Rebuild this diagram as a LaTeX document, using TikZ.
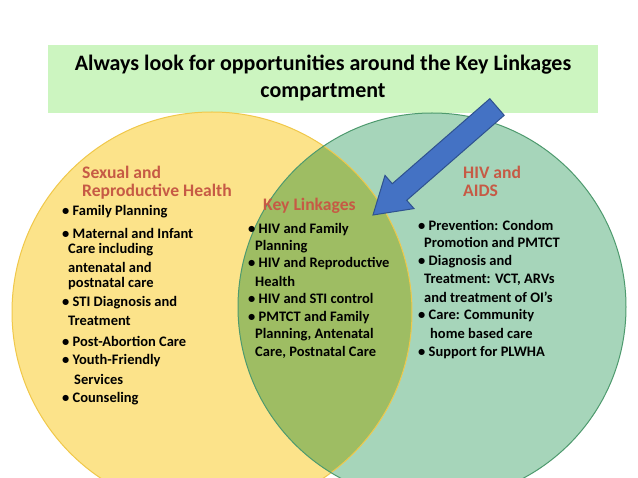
\documentclass[tikz,border=0pt]{standalone}
\usepackage{fontspec}
\setmainfont{Carlito}
\definecolor{ylw}{HTML}{FCE38A}
\definecolor{ylwb}{HTML}{F0C84A}
\definecolor{grn}{HTML}{A6D5BA}
\definecolor{grnb}{HTML}{4E9A6E}
\definecolor{olv}{HTML}{9EBD63}
\definecolor{hd}{HTML}{C65A45}
\definecolor{ttl}{HTML}{CCF5C0}
\definecolor{arr}{HTML}{4472C4}
\definecolor{arrb}{HTML}{2F528F}
\begin{document}
\begin{tikzpicture}[x=1pt,y=-1pt,
  txt/.style={anchor=west,inner sep=0pt,font=\bfseries\fontsize{14.5}{17}\selectfont,text=black},
  head/.style={anchor=west,inner sep=0pt,font=\bfseries\fontsize{17.6}{20}\selectfont,text=hd}]
\useasboundingbox (0,0) rectangle (638,478);
\fill[white] (0,0) rectangle (638,478);
\fill[ttl] (48,45) rectangle (598,113);
\node[inner sep=0pt,align=center,font=\bfseries\fontsize{22}{27}\selectfont] (title) at (323,78) {Always look for opportunities around the Key Linkages\\compartment};
\fill[ylw] (212,312) circle (200);
\fill[grn] (432,307) circle (194);
\begin{scope}
\clip (212,312) circle (200);
\fill[olv] (432,307) circle (194);
\end{scope}
\draw[ylwb,line width=1pt] (212,312) circle (200);
\draw[grnb,line width=1pt] (432,307) circle (194);
\filldraw[fill=arr,draw=arrb,line width=1pt] (504.2,115.3) -- (489.8,98.7) -- (392.3,183.7) -- (385,175.4) -- (373,215) -- (414,208.6) -- (406.7,200.3) -- cycle;
% left
\node[head] (l1) at (82,172) {Sexual and};
\node[head] (l2) at (82,192) {Reproductive Health};
\node[txt] (a1) at (62,212) {• Family Planning};
\node[txt] (a2) at (62,233) {• Maternal and Infant};
\node[txt] (a3) at (68,250) {Care including};
\node[txt] (a4) at (68,267) {antenatal and};
\node[txt] (a5) at (68,284) {postnatal care};
\node[txt] (a6) at (62,303) {• STI Diagnosis and};
\node[txt] (a7) at (68,321) {Treatment};
\node[txt] (a8) at (62,341) {• Post-Abortion Care};
\node[txt] (a9) at (62,361) {• Youth-Friendly};
\node[txt] (a10) at (74,379) {Services};
\node[txt] (a11) at (62,399) {• Counseling};
% middle
\node[head] (m0) at (263,206) {Key Linkages};
\node[txt] (b1) at (248,230) {• HIV and Family};
\node[txt] (b2) at (255,247) {Planning};
\node[txt] (b3) at (248,264) {• HIV and Reproductive};
\node[txt] (b4) at (255,281) {Health};
\node[txt] (b5) at (248,298) {• HIV and STI control};
\node[txt] (b6) at (248,318) {• PMTCT and Family};
\node[txt] (b7) at (255,335) {Planning, Antenatal};
\node[txt] (b8) at (255,352) {Care, Postnatal Care};
% right
\node[head] (r1) at (463,172) {HIV and};
\node[head] (r2) at (463,191) {AIDS};
\node[txt] (c1) at (418,225) {• Prevention: Condom};
\node[txt] (c2) at (424,242) {Promotion and PMTCT};
\node[txt] (c3) at (418,262) {• Diagnosis and};
\node[txt] (c4) at (424,280) {Treatment: VCT, ARVs};
\node[txt] (c5) at (424,297) {and treatment of OI's};
\node[txt] (c6) at (418,316) {• Care: Community};
\node[txt] (c7) at (430,333) {home based care};
\node[txt] (c8) at (418,353) {• Support for PLWHA};
\end{tikzpicture}
\end{document}
